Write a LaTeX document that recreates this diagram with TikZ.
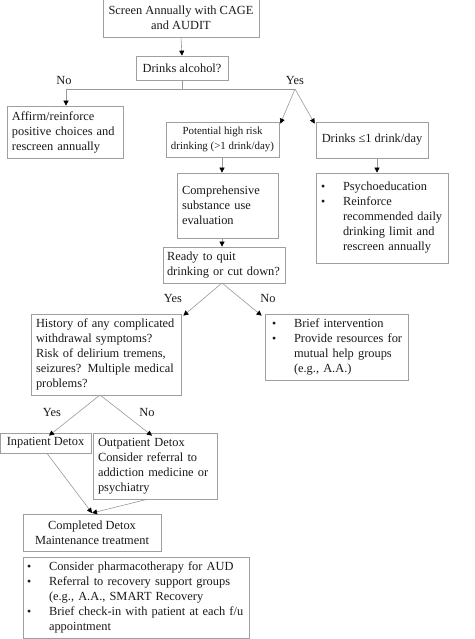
\documentclass[tikz,border=0pt]{standalone}
\usepackage{fontspec}
\setmainfont{Liberation Serif}
\usetikzlibrary{arrows.meta}
\begin{document}
\begin{tikzpicture}[x=1pt,y=-1pt,
  box/.style={draw=gray!75,line width=0.7pt,rectangle,inner xsep=5pt,inner ysep=2pt,
    font=\fontsize{12.4}{15}\selectfont,text=black!90},
  cbox/.style={box,align=center},
  lbox/.style={box,align=left},
  conn/.style={draw=gray!80,line width=0.6pt},
  arr/.style={conn,-{Triangle[length=5pt,width=5pt,black]}},
  lab/.style={font=\fontsize{12.4}{15}\selectfont,text=black!90,inner sep=0pt}]
\useasboundingbox (0,0) rectangle (474,639);
\newcommand{\bul}[1]{\mbox{\makebox[24pt][l]{\hspace{2pt}\scalebox{0.95}{\textbullet}}#1}}
\newcommand{\ind}[1]{\mbox{\hspace*{24pt}#1}}

\node[cbox,minimum width=156pt,minimum height=39pt] (screen) at (181,17.5) {Screen Annually with CAGE\\and AUDIT};
\node[cbox,minimum width=92pt,minimum height=24pt] (drinks) at (182,68) {Drinks alcohol?};
\node[lbox,minimum width=116pt,minimum height=52pt,text width=106pt] (affirm) at (65,132) {Affirm/reinforce\\positive choices and\\rescreen annually};
\node[cbox,minimum width=109pt,minimum height=35pt,font=\fontsize{10.9}{15}\selectfont] (potential) at (222.5,139.5) {Potential high risk\\drinking (>1 drink/day)};
\node[cbox,minimum width=112pt,minimum height=36pt] (le1) at (372,140) {Drinks ≤1 drink/day};
\node[lbox,minimum width=101pt,minimum height=65pt,text width=91pt] (compr) at (227.5,205.5) {Comprehensive\\substance use\\evaluation};
\node[lbox,minimum width=132pt,minimum height=90pt,text width=126pt,inner xsep=3pt] (psycho) at (382,218) {\bul{Psychoeducation}\\\bul{Reinforce}\\\ind{recommended daily}\\\ind{drinking limit and}\\\ind{rescreen annually}};
\node[lbox,minimum width=122pt,minimum height=36pt,text width=114pt,inner xsep=4pt] (ready) at (224,265) {Ready to quit\\drinking or cut down?};
\node[lbox,minimum width=150pt,minimum height=81pt,text width=140pt] (history) at (106,354.5) {History of any complicated\\withdrawal symptoms?\\Risk of delirium tremens,\\seizures? Multiple medical\\problems?};
\node[lbox,minimum width=143pt,minimum height=66pt,text width=133pt] (brief) at (336.5,347) {\bul{Brief intervention}\\\bul{Provide resources for}\\\ind{mutual help groups}\\\ind{(e.g., A.A.)}};
\node[cbox,minimum width=91pt,minimum height=20pt,inner xsep=2pt] (inpat) at (45.5,443) {Inpatient Detox};
\node[lbox,minimum width=124pt,minimum height=66pt,text width=114pt] (outpat) at (155,466) {Outpatient Detox\\Consider referral to\\addiction medicine or\\psychiatry};
\node[cbox,minimum width=138pt,minimum height=37pt] (completed) at (92,532.5) {Completed Detox\\Maintenance treatment};
\node[lbox,minimum width=226pt,minimum height=81pt,text width=222pt,inner xsep=2pt] (final) at (136,597.5) {\bul{Consider pharmacotherapy for AUD}\\\bul{Referral to recovery support groups}\\\ind{(e.g., A.A., SMART Recovery}\\\bul{Brief check-in with patient at each f/u}\\\ind{appointment}};

% connectors
\coordinate (jL) at (66,89);
\coordinate (jR) at (295,89);
\coordinate (rS) at (222,283);
\coordinate (pS) at (377,158);
\coordinate (hS) at (100,395);
\coordinate (cN) at (92,513);

\draw[arr] (screen.south) -- (drinks.north);
\draw[conn] (drinks.south) -- (drinks.south |- jL);
\draw[conn] (jL) -- (jR);
\draw[arr] (jL) -- (jL |- affirm.north);
\draw[arr] (jR) -- ([xshift=1pt,yshift=-2pt]potential.north east);
\draw[arr] (jR) -- ([xshift=-1pt,yshift=-2pt]le1.north west);
\draw[arr] (rS |- potential.south) -- (rS |- compr.north);
\draw[arr] (pS |- le1.south) -- (pS |- psycho.north);
\draw[arr] (rS |- compr.south) -- (rS |- ready.north);
\draw[conn] (rS) -- (rS |- ready.south);
\draw[arr] (rS) -- ([xshift=2pt,yshift=-2pt]history.north east);
\draw[arr] (rS) -- ([xshift=-3pt,yshift=-2pt]brief.north west);
\draw[arr] (hS) -- ([xshift=3.5pt,yshift=-3pt]inpat.north);
\draw[arr] (hS) -- ([xshift=-3pt,yshift=-3pt]outpat.north);
\draw[arr] ([xshift=1.5pt]inpat.south) -- (cN);
\draw[arr] ([xshift=-8pt]outpat.south) -- (cN);

% labels
\node[lab] (lno1) at (64,81) {No};
\node[lab] (lyes1) at (295,81) {Yes};
\node[lab] (lyes2) at (173,298) {Yes};
\node[lab] (lno2) at (268,298) {No};
\node[lab] (lyes3) at (52,412) {Yes};
\node[lab] (lno3) at (147,412) {No};
\end{tikzpicture}
\end{document}
